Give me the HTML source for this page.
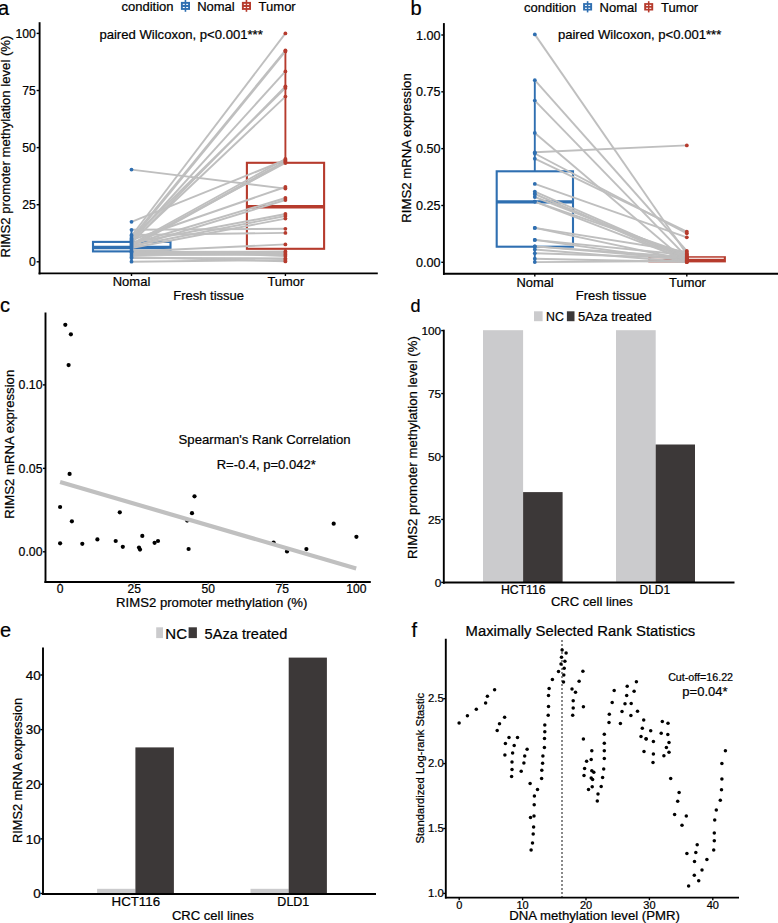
<!DOCTYPE html>
<html><head><meta charset="utf-8"><style>
html,body{margin:0;padding:0;background:#fff;width:778px;height:923px;overflow:hidden}
svg text{font-family:"Liberation Sans", sans-serif;stroke:#000;stroke-width:0.22px;paint-order:stroke}
</style></head><body>
<svg width="778" height="923" viewBox="0 0 778 923" style="display:block;font-family:'Liberation Sans', sans-serif"><text x="-2" y="14.5" font-size="20" text-anchor="start" fill="#000" >a</text>
<text x="147.55" y="10.5" font-size="13" text-anchor="middle" fill="#000" >condition</text>
<line x1="185.45" y1="0" x2="185.45" y2="11.8" stroke="#2F6FB1" stroke-width="1.6" stroke-linecap="butt" />
<rect x="180.9" y="1.9" width="9.1" height="8" fill="#2F6FB1"/>
<rect x="182.8" y="3.83" width="1.95" height="1.1" fill="#fff"/>
<rect x="186.15" y="3.83" width="1.95" height="1.1" fill="#fff"/>
<rect x="182.8" y="6.95" width="1.95" height="1.1" fill="#fff"/>
<rect x="186.15" y="6.95" width="1.95" height="1.1" fill="#fff"/>
<text x="215.95" y="10.5" font-size="13" text-anchor="middle" fill="#000" >Nomal</text>
<line x1="246.45" y1="0" x2="246.45" y2="11.8" stroke="#B63B2D" stroke-width="1.6" stroke-linecap="butt" />
<rect x="241.9" y="1.9" width="9.1" height="8" fill="#B63B2D"/>
<rect x="243.8" y="3.83" width="1.95" height="1.1" fill="#fff"/>
<rect x="247.15" y="3.83" width="1.95" height="1.1" fill="#fff"/>
<rect x="243.8" y="6.95" width="1.95" height="1.1" fill="#fff"/>
<rect x="247.15" y="6.95" width="1.95" height="1.1" fill="#fff"/>
<text x="277.15" y="10.5" font-size="13" text-anchor="middle" fill="#000" >Tumor</text>
<text x="181.1" y="38.5" font-size="13.1" text-anchor="middle" fill="#000" >paired Wilcoxon, p&lt;0.001***</text>
<rect x="93" y="241.9" width="77.5" height="9.5" fill="none" stroke="#2F6FB1" stroke-width="2.1"/>
<line x1="93" y1="247.5" x2="170.5" y2="247.5" stroke="#2F6FB1" stroke-width="3.3" stroke-linecap="butt" />
<line x1="131.5" y1="229.8" x2="131.5" y2="241.9" stroke="#2F6FB1" stroke-width="1.9" stroke-linecap="butt" />
<line x1="131.5" y1="251.4" x2="131.5" y2="261.7" stroke="#2F6FB1" stroke-width="1.9" stroke-linecap="butt" />
<rect x="246.9" y="162.8" width="77.2" height="86" fill="none" stroke="#B63B2D" stroke-width="2.1"/>
<line x1="246.9" y1="206.8" x2="324.1" y2="206.8" stroke="#B63B2D" stroke-width="3.5" stroke-linecap="butt" />
<line x1="285.4" y1="50.3" x2="285.4" y2="162.8" stroke="#B63B2D" stroke-width="1.9" stroke-linecap="butt" />
<line x1="285.4" y1="248.8" x2="285.4" y2="261.5" stroke="#B63B2D" stroke-width="1.9" stroke-linecap="butt" />
<line x1="131.5" y1="236" x2="285.4" y2="33.4" stroke="#BFBFBF" stroke-width="1.9" stroke-linecap="butt" />
<line x1="131.5" y1="238" x2="285.4" y2="50.3" stroke="#BFBFBF" stroke-width="1.9" stroke-linecap="butt" />
<line x1="131.5" y1="240" x2="285.4" y2="51.5" stroke="#BFBFBF" stroke-width="1.9" stroke-linecap="butt" />
<line x1="131.5" y1="241" x2="285.4" y2="71.4" stroke="#BFBFBF" stroke-width="1.9" stroke-linecap="butt" />
<line x1="131.5" y1="243" x2="285.4" y2="86.3" stroke="#BFBFBF" stroke-width="1.9" stroke-linecap="butt" />
<line x1="131.5" y1="239" x2="285.4" y2="88" stroke="#BFBFBF" stroke-width="1.9" stroke-linecap="butt" />
<line x1="131.5" y1="242" x2="285.4" y2="96.6" stroke="#BFBFBF" stroke-width="1.9" stroke-linecap="butt" />
<line x1="131.5" y1="221.8" x2="285.4" y2="160" stroke="#BFBFBF" stroke-width="1.9" stroke-linecap="butt" />
<line x1="131.5" y1="244" x2="285.4" y2="159" stroke="#BFBFBF" stroke-width="1.9" stroke-linecap="butt" />
<line x1="131.5" y1="246" x2="285.4" y2="161" stroke="#BFBFBF" stroke-width="1.9" stroke-linecap="butt" />
<line x1="131.5" y1="247" x2="285.4" y2="162" stroke="#BFBFBF" stroke-width="1.9" stroke-linecap="butt" />
<line x1="131.5" y1="245" x2="285.4" y2="163" stroke="#BFBFBF" stroke-width="1.9" stroke-linecap="butt" />
<line x1="131.5" y1="240" x2="285.4" y2="187" stroke="#BFBFBF" stroke-width="1.9" stroke-linecap="butt" />
<line x1="131.5" y1="169.6" x2="285.4" y2="188.6" stroke="#BFBFBF" stroke-width="1.9" stroke-linecap="butt" />
<line x1="131.5" y1="244" x2="285.4" y2="198" stroke="#BFBFBF" stroke-width="1.9" stroke-linecap="butt" />
<line x1="131.5" y1="247" x2="285.4" y2="200" stroke="#BFBFBF" stroke-width="1.9" stroke-linecap="butt" />
<line x1="131.5" y1="243" x2="285.4" y2="214" stroke="#BFBFBF" stroke-width="1.9" stroke-linecap="butt" />
<line x1="131.5" y1="246" x2="285.4" y2="216" stroke="#BFBFBF" stroke-width="1.9" stroke-linecap="butt" />
<line x1="131.5" y1="248" x2="285.4" y2="218.6" stroke="#BFBFBF" stroke-width="1.9" stroke-linecap="butt" />
<line x1="131.5" y1="229.8" x2="285.4" y2="228.8" stroke="#BFBFBF" stroke-width="1.9" stroke-linecap="butt" />
<line x1="131.5" y1="235" x2="285.4" y2="232.9" stroke="#BFBFBF" stroke-width="1.9" stroke-linecap="butt" />
<line x1="131.5" y1="251.5" x2="285.4" y2="244.4" stroke="#BFBFBF" stroke-width="1.9" stroke-linecap="butt" />
<line x1="131.5" y1="252" x2="285.4" y2="251.5" stroke="#BFBFBF" stroke-width="1.9" stroke-linecap="butt" />
<line x1="131.5" y1="255" x2="285.4" y2="254.6" stroke="#BFBFBF" stroke-width="1.9" stroke-linecap="butt" />
<line x1="131.5" y1="250" x2="285.4" y2="256" stroke="#BFBFBF" stroke-width="1.9" stroke-linecap="butt" />
<line x1="131.5" y1="258" x2="285.4" y2="258.4" stroke="#BFBFBF" stroke-width="1.9" stroke-linecap="butt" />
<line x1="131.5" y1="261.7" x2="285.4" y2="260" stroke="#BFBFBF" stroke-width="1.9" stroke-linecap="butt" />
<line x1="131.5" y1="257" x2="285.4" y2="261.4" stroke="#BFBFBF" stroke-width="1.9" stroke-linecap="butt" />
<line x1="131.5" y1="253" x2="285.4" y2="253" stroke="#BFBFBF" stroke-width="1.9" stroke-linecap="butt" />
<circle cx="131.5" cy="169.6" r="1.9" fill="#2F6FB1"/>
<circle cx="131.5" cy="221.8" r="1.9" fill="#2F6FB1"/>
<circle cx="131.5" cy="229.8" r="1.9" fill="#2F6FB1"/>
<circle cx="131.5" cy="235" r="1.9" fill="#2F6FB1"/>
<circle cx="131.5" cy="236" r="1.9" fill="#2F6FB1"/>
<circle cx="131.5" cy="238" r="1.9" fill="#2F6FB1"/>
<circle cx="131.5" cy="239" r="1.9" fill="#2F6FB1"/>
<circle cx="131.5" cy="240" r="1.9" fill="#2F6FB1"/>
<circle cx="131.5" cy="241" r="1.9" fill="#2F6FB1"/>
<circle cx="131.5" cy="242" r="1.9" fill="#2F6FB1"/>
<circle cx="131.5" cy="243" r="1.9" fill="#2F6FB1"/>
<circle cx="131.5" cy="244" r="1.9" fill="#2F6FB1"/>
<circle cx="131.5" cy="245" r="1.9" fill="#2F6FB1"/>
<circle cx="131.5" cy="246" r="1.9" fill="#2F6FB1"/>
<circle cx="131.5" cy="247" r="1.9" fill="#2F6FB1"/>
<circle cx="131.5" cy="248" r="1.9" fill="#2F6FB1"/>
<circle cx="131.5" cy="250" r="1.9" fill="#2F6FB1"/>
<circle cx="131.5" cy="251.5" r="1.9" fill="#2F6FB1"/>
<circle cx="131.5" cy="252" r="1.9" fill="#2F6FB1"/>
<circle cx="131.5" cy="253" r="1.9" fill="#2F6FB1"/>
<circle cx="131.5" cy="255" r="1.9" fill="#2F6FB1"/>
<circle cx="131.5" cy="257" r="1.9" fill="#2F6FB1"/>
<circle cx="131.5" cy="258" r="1.9" fill="#2F6FB1"/>
<circle cx="131.5" cy="261.7" r="1.9" fill="#2F6FB1"/>
<circle cx="285.4" cy="33.4" r="1.9" fill="#B63B2D"/>
<circle cx="285.4" cy="50.3" r="1.9" fill="#B63B2D"/>
<circle cx="285.4" cy="51.5" r="1.9" fill="#B63B2D"/>
<circle cx="285.4" cy="71.4" r="1.9" fill="#B63B2D"/>
<circle cx="285.4" cy="86.3" r="1.9" fill="#B63B2D"/>
<circle cx="285.4" cy="88" r="1.9" fill="#B63B2D"/>
<circle cx="285.4" cy="96.6" r="1.9" fill="#B63B2D"/>
<circle cx="285.4" cy="159" r="1.9" fill="#B63B2D"/>
<circle cx="285.4" cy="160" r="1.9" fill="#B63B2D"/>
<circle cx="285.4" cy="161" r="1.9" fill="#B63B2D"/>
<circle cx="285.4" cy="162" r="1.9" fill="#B63B2D"/>
<circle cx="285.4" cy="163" r="1.9" fill="#B63B2D"/>
<circle cx="285.4" cy="187" r="1.9" fill="#B63B2D"/>
<circle cx="285.4" cy="188.6" r="1.9" fill="#B63B2D"/>
<circle cx="285.4" cy="198" r="1.9" fill="#B63B2D"/>
<circle cx="285.4" cy="200" r="1.9" fill="#B63B2D"/>
<circle cx="285.4" cy="214" r="1.9" fill="#B63B2D"/>
<circle cx="285.4" cy="216" r="1.9" fill="#B63B2D"/>
<circle cx="285.4" cy="218.6" r="1.9" fill="#B63B2D"/>
<circle cx="285.4" cy="228.8" r="1.9" fill="#B63B2D"/>
<circle cx="285.4" cy="232.9" r="1.9" fill="#B63B2D"/>
<circle cx="285.4" cy="244.4" r="1.9" fill="#B63B2D"/>
<circle cx="285.4" cy="251.5" r="1.9" fill="#B63B2D"/>
<circle cx="285.4" cy="253" r="1.9" fill="#B63B2D"/>
<circle cx="285.4" cy="254.6" r="1.9" fill="#B63B2D"/>
<circle cx="285.4" cy="256" r="1.9" fill="#B63B2D"/>
<circle cx="285.4" cy="258.4" r="1.9" fill="#B63B2D"/>
<circle cx="285.4" cy="260" r="1.9" fill="#B63B2D"/>
<circle cx="285.4" cy="261.4" r="1.9" fill="#B63B2D"/>
<line x1="39.6" y1="22.2" x2="39.6" y2="274.4" stroke="#000" stroke-width="1.9" stroke-linecap="butt" />
<line x1="38.6" y1="273.4" x2="377.8" y2="273.4" stroke="#000" stroke-width="1.9" stroke-linecap="butt" />
<line x1="36.6" y1="33.4" x2="39.2" y2="33.4" stroke="#000" stroke-width="1.4" stroke-linecap="butt" />
<text x="35.9" y="37.7" font-size="12.2" text-anchor="end" fill="#000" >100</text>
<line x1="36.6" y1="90.5" x2="39.2" y2="90.5" stroke="#000" stroke-width="1.4" stroke-linecap="butt" />
<text x="35.9" y="94.8" font-size="12.2" text-anchor="end" fill="#000" >75</text>
<line x1="36.6" y1="147.6" x2="39.2" y2="147.6" stroke="#000" stroke-width="1.4" stroke-linecap="butt" />
<text x="35.9" y="151.9" font-size="12.2" text-anchor="end" fill="#000" >50</text>
<line x1="36.6" y1="204.7" x2="39.2" y2="204.7" stroke="#000" stroke-width="1.4" stroke-linecap="butt" />
<text x="35.9" y="209" font-size="12.2" text-anchor="end" fill="#000" >25</text>
<line x1="36.6" y1="261.8" x2="39.2" y2="261.8" stroke="#000" stroke-width="1.4" stroke-linecap="butt" />
<text x="35.9" y="266.1" font-size="12.2" text-anchor="end" fill="#000" >0</text>
<line x1="131.5" y1="273.4" x2="131.5" y2="276" stroke="#000" stroke-width="1.4" stroke-linecap="butt" />
<line x1="285.4" y1="273.4" x2="285.4" y2="276" stroke="#000" stroke-width="1.4" stroke-linecap="butt" />
<text x="131.5" y="285.6" font-size="13" text-anchor="middle" fill="#000" >Nomal</text>
<text x="285.8" y="285.6" font-size="12.9" text-anchor="middle" fill="#000" >Tumor</text>
<text x="208.6" y="299.7" font-size="13" text-anchor="middle" fill="#000" >Fresh tissue</text>
<text transform="translate(10.3,146.6) rotate(-90)" x="0" y="0" font-size="13.15" text-anchor="middle" fill="#000" >RIMS2 promoter methylation level (%)</text>
<text x="410.4" y="14.6" font-size="20" text-anchor="start" fill="#000" >b</text>
<text x="550" y="11.6" font-size="13" text-anchor="middle" fill="#000" >condition</text>
<line x1="587.6" y1="1.2" x2="587.6" y2="12.4" stroke="#2F6FB1" stroke-width="1.6" stroke-linecap="butt" />
<rect x="583.1" y="3.1" width="9" height="7.4" fill="#2F6FB1"/>
<rect x="585" y="4.84" width="1.9" height="1.1" fill="#fff"/>
<rect x="588.3" y="4.84" width="1.9" height="1.1" fill="#fff"/>
<rect x="585" y="7.73" width="1.9" height="1.1" fill="#fff"/>
<rect x="588.3" y="7.73" width="1.9" height="1.1" fill="#fff"/>
<text x="618.35" y="11.6" font-size="13" text-anchor="middle" fill="#000" >Nomal</text>
<line x1="648.7" y1="1.2" x2="648.7" y2="12.4" stroke="#B63B2D" stroke-width="1.6" stroke-linecap="butt" />
<rect x="644.2" y="3.1" width="9" height="7.4" fill="#B63B2D"/>
<rect x="646.1" y="4.84" width="1.9" height="1.1" fill="#fff"/>
<rect x="649.4" y="4.84" width="1.9" height="1.1" fill="#fff"/>
<rect x="646.1" y="7.73" width="1.9" height="1.1" fill="#fff"/>
<rect x="649.4" y="7.73" width="1.9" height="1.1" fill="#fff"/>
<text x="679.65" y="11.6" font-size="13" text-anchor="middle" fill="#000" >Tumor</text>
<text x="639.6" y="39.4" font-size="13.1" text-anchor="middle" fill="#000" >paired Wilcoxon, p&lt;0.001***</text>
<rect x="496.7" y="171.3" width="76.3" height="75.4" fill="none" stroke="#2F6FB1" stroke-width="2.1"/>
<line x1="496.7" y1="201.8" x2="573" y2="201.8" stroke="#2F6FB1" stroke-width="3.3" stroke-linecap="butt" />
<line x1="534.8" y1="80.2" x2="534.8" y2="171.3" stroke="#2F6FB1" stroke-width="1.9" stroke-linecap="butt" />
<line x1="534.8" y1="246.7" x2="534.8" y2="262.1" stroke="#2F6FB1" stroke-width="1.9" stroke-linecap="butt" />
<rect x="648.3" y="256.2" width="77.6" height="6.2" fill="#B63B2D"/>
<rect x="650.4" y="257.7" width="73.4" height="1.1" fill="#fff"/>
<line x1="686.8" y1="251" x2="686.8" y2="256.5" stroke="#B63B2D" stroke-width="1.9" stroke-linecap="butt" />
<line x1="534.8" y1="34.4" x2="686.8" y2="254" stroke="#BFBFBF" stroke-width="1.9" stroke-linecap="butt" />
<line x1="534.8" y1="80.2" x2="686.8" y2="251" stroke="#BFBFBF" stroke-width="1.9" stroke-linecap="butt" />
<line x1="534.8" y1="100.6" x2="686.8" y2="257" stroke="#BFBFBF" stroke-width="1.9" stroke-linecap="butt" />
<line x1="534.8" y1="133" x2="686.8" y2="262" stroke="#BFBFBF" stroke-width="1.9" stroke-linecap="butt" />
<line x1="534.8" y1="152.3" x2="686.8" y2="145.4" stroke="#BFBFBF" stroke-width="1.9" stroke-linecap="butt" />
<line x1="534.8" y1="153.5" x2="686.8" y2="233.3" stroke="#BFBFBF" stroke-width="1.9" stroke-linecap="butt" />
<line x1="534.8" y1="158.7" x2="686.8" y2="231.6" stroke="#BFBFBF" stroke-width="1.9" stroke-linecap="butt" />
<line x1="534.8" y1="183.9" x2="686.8" y2="237.3" stroke="#BFBFBF" stroke-width="1.9" stroke-linecap="butt" />
<line x1="534.8" y1="191.6" x2="686.8" y2="258" stroke="#BFBFBF" stroke-width="1.9" stroke-linecap="butt" />
<line x1="534.8" y1="194" x2="686.8" y2="259" stroke="#BFBFBF" stroke-width="1.9" stroke-linecap="butt" />
<line x1="534.8" y1="197" x2="686.8" y2="256" stroke="#BFBFBF" stroke-width="1.9" stroke-linecap="butt" />
<line x1="534.8" y1="201.6" x2="686.8" y2="254" stroke="#BFBFBF" stroke-width="1.9" stroke-linecap="butt" />
<line x1="534.8" y1="227.9" x2="686.8" y2="260" stroke="#BFBFBF" stroke-width="1.9" stroke-linecap="butt" />
<line x1="534.8" y1="239.9" x2="686.8" y2="261" stroke="#BFBFBF" stroke-width="1.9" stroke-linecap="butt" />
<line x1="534.8" y1="246.4" x2="686.8" y2="259" stroke="#BFBFBF" stroke-width="1.9" stroke-linecap="butt" />
<line x1="534.8" y1="249.5" x2="686.8" y2="262" stroke="#BFBFBF" stroke-width="1.9" stroke-linecap="butt" />
<line x1="534.8" y1="253.3" x2="686.8" y2="258" stroke="#BFBFBF" stroke-width="1.9" stroke-linecap="butt" />
<line x1="534.8" y1="258.7" x2="686.8" y2="262" stroke="#BFBFBF" stroke-width="1.9" stroke-linecap="butt" />
<line x1="534.8" y1="262.1" x2="686.8" y2="261" stroke="#BFBFBF" stroke-width="1.9" stroke-linecap="butt" />
<line x1="534.8" y1="239.9" x2="686.8" y2="255" stroke="#BFBFBF" stroke-width="1.9" stroke-linecap="butt" />
<line x1="534.8" y1="227.9" x2="686.8" y2="252" stroke="#BFBFBF" stroke-width="1.9" stroke-linecap="butt" />
<line x1="534.8" y1="246.4" x2="686.8" y2="257" stroke="#BFBFBF" stroke-width="1.9" stroke-linecap="butt" />
<line x1="534.8" y1="201.6" x2="686.8" y2="260" stroke="#BFBFBF" stroke-width="1.9" stroke-linecap="butt" />
<line x1="534.8" y1="194" x2="686.8" y2="261" stroke="#BFBFBF" stroke-width="1.9" stroke-linecap="butt" />
<circle cx="534.8" cy="34.4" r="1.9" fill="#2F6FB1"/>
<circle cx="686.8" cy="254" r="1.9" fill="#B63B2D"/>
<circle cx="534.8" cy="80.2" r="1.9" fill="#2F6FB1"/>
<circle cx="686.8" cy="251" r="1.9" fill="#B63B2D"/>
<circle cx="534.8" cy="100.6" r="1.9" fill="#2F6FB1"/>
<circle cx="686.8" cy="257" r="1.9" fill="#B63B2D"/>
<circle cx="534.8" cy="133" r="1.9" fill="#2F6FB1"/>
<circle cx="686.8" cy="262" r="1.9" fill="#B63B2D"/>
<circle cx="534.8" cy="152.3" r="1.9" fill="#2F6FB1"/>
<circle cx="686.8" cy="145.4" r="1.9" fill="#B63B2D"/>
<circle cx="534.8" cy="153.5" r="1.9" fill="#2F6FB1"/>
<circle cx="686.8" cy="233.3" r="1.9" fill="#B63B2D"/>
<circle cx="534.8" cy="158.7" r="1.9" fill="#2F6FB1"/>
<circle cx="686.8" cy="231.6" r="1.9" fill="#B63B2D"/>
<circle cx="534.8" cy="183.9" r="1.9" fill="#2F6FB1"/>
<circle cx="686.8" cy="237.3" r="1.9" fill="#B63B2D"/>
<circle cx="534.8" cy="191.6" r="1.9" fill="#2F6FB1"/>
<circle cx="686.8" cy="258" r="1.9" fill="#B63B2D"/>
<circle cx="534.8" cy="194" r="1.9" fill="#2F6FB1"/>
<circle cx="686.8" cy="259" r="1.9" fill="#B63B2D"/>
<circle cx="534.8" cy="197" r="1.9" fill="#2F6FB1"/>
<circle cx="686.8" cy="256" r="1.9" fill="#B63B2D"/>
<circle cx="534.8" cy="201.6" r="1.9" fill="#2F6FB1"/>
<circle cx="686.8" cy="254" r="1.9" fill="#B63B2D"/>
<circle cx="534.8" cy="227.9" r="1.9" fill="#2F6FB1"/>
<circle cx="686.8" cy="260" r="1.9" fill="#B63B2D"/>
<circle cx="534.8" cy="239.9" r="1.9" fill="#2F6FB1"/>
<circle cx="686.8" cy="261" r="1.9" fill="#B63B2D"/>
<circle cx="534.8" cy="246.4" r="1.9" fill="#2F6FB1"/>
<circle cx="686.8" cy="259" r="1.9" fill="#B63B2D"/>
<circle cx="534.8" cy="249.5" r="1.9" fill="#2F6FB1"/>
<circle cx="686.8" cy="262" r="1.9" fill="#B63B2D"/>
<circle cx="534.8" cy="253.3" r="1.9" fill="#2F6FB1"/>
<circle cx="686.8" cy="258" r="1.9" fill="#B63B2D"/>
<circle cx="534.8" cy="258.7" r="1.9" fill="#2F6FB1"/>
<circle cx="686.8" cy="262" r="1.9" fill="#B63B2D"/>
<circle cx="534.8" cy="262.1" r="1.9" fill="#2F6FB1"/>
<circle cx="686.8" cy="261" r="1.9" fill="#B63B2D"/>
<circle cx="534.8" cy="239.9" r="1.9" fill="#2F6FB1"/>
<circle cx="686.8" cy="255" r="1.9" fill="#B63B2D"/>
<circle cx="534.8" cy="227.9" r="1.9" fill="#2F6FB1"/>
<circle cx="686.8" cy="252" r="1.9" fill="#B63B2D"/>
<circle cx="534.8" cy="246.4" r="1.9" fill="#2F6FB1"/>
<circle cx="686.8" cy="257" r="1.9" fill="#B63B2D"/>
<circle cx="534.8" cy="201.6" r="1.9" fill="#2F6FB1"/>
<circle cx="686.8" cy="260" r="1.9" fill="#B63B2D"/>
<circle cx="534.8" cy="194" r="1.9" fill="#2F6FB1"/>
<circle cx="686.8" cy="261" r="1.9" fill="#B63B2D"/>
<line x1="443.9" y1="23.1" x2="443.9" y2="274.8" stroke="#000" stroke-width="1.9" stroke-linecap="butt" />
<line x1="443" y1="273.8" x2="778" y2="273.8" stroke="#000" stroke-width="1.9" stroke-linecap="butt" />
<line x1="441.3" y1="35" x2="443.9" y2="35" stroke="#000" stroke-width="1.4" stroke-linecap="butt" />
<text x="440.4" y="39.6" font-size="12.6" text-anchor="end" fill="#000" >1.00</text>
<line x1="441.3" y1="91.82" x2="443.9" y2="91.82" stroke="#000" stroke-width="1.4" stroke-linecap="butt" />
<text x="440.4" y="96.42" font-size="12.6" text-anchor="end" fill="#000" >0.75</text>
<line x1="441.3" y1="148.65" x2="443.9" y2="148.65" stroke="#000" stroke-width="1.4" stroke-linecap="butt" />
<text x="440.4" y="153.25" font-size="12.6" text-anchor="end" fill="#000" >0.50</text>
<line x1="441.3" y1="205.48" x2="443.9" y2="205.48" stroke="#000" stroke-width="1.4" stroke-linecap="butt" />
<text x="440.4" y="210.08" font-size="12.6" text-anchor="end" fill="#000" >0.25</text>
<line x1="441.3" y1="262.3" x2="443.9" y2="262.3" stroke="#000" stroke-width="1.4" stroke-linecap="butt" />
<text x="440.4" y="266.9" font-size="12.6" text-anchor="end" fill="#000" >0.00</text>
<line x1="534.8" y1="273.8" x2="534.8" y2="276.4" stroke="#000" stroke-width="1.4" stroke-linecap="butt" />
<line x1="686.8" y1="273.8" x2="686.8" y2="276.4" stroke="#000" stroke-width="1.4" stroke-linecap="butt" />
<text x="535.05" y="287" font-size="12.9" text-anchor="middle" fill="#000" >Nomal</text>
<text x="687.5" y="287" font-size="12.9" text-anchor="middle" fill="#000" >Tumor</text>
<text x="611.15" y="300.3" font-size="13" text-anchor="middle" fill="#000" >Fresh tissue</text>
<text transform="translate(411,148) rotate(-90)" x="0" y="0" font-size="13.2" text-anchor="middle" fill="#000" >RIMS2 mRNA expression</text>
<text x="0.1" y="311.8" font-size="20" text-anchor="start" fill="#000" >c</text>
<circle cx="65.3" cy="324.8" r="2.1" fill="#000"/>
<circle cx="70.9" cy="334.3" r="2.1" fill="#000"/>
<circle cx="68.6" cy="365.1" r="2.1" fill="#000"/>
<circle cx="69.6" cy="473.9" r="2.1" fill="#000"/>
<circle cx="60.1" cy="507" r="2.1" fill="#000"/>
<circle cx="71.9" cy="521.3" r="2.1" fill="#000"/>
<circle cx="119.8" cy="512.3" r="2.1" fill="#000"/>
<circle cx="60.1" cy="543.3" r="2.1" fill="#000"/>
<circle cx="82.3" cy="543.8" r="2.1" fill="#000"/>
<circle cx="97.4" cy="539.4" r="2.1" fill="#000"/>
<circle cx="115.7" cy="541" r="2.1" fill="#000"/>
<circle cx="122.8" cy="546.8" r="2.1" fill="#000"/>
<circle cx="139" cy="547.5" r="2.1" fill="#000"/>
<circle cx="140" cy="549.6" r="2.1" fill="#000"/>
<circle cx="142.3" cy="535.9" r="2.1" fill="#000"/>
<circle cx="154.6" cy="542.8" r="2.1" fill="#000"/>
<circle cx="158" cy="541" r="2.1" fill="#000"/>
<circle cx="188.6" cy="549" r="2.1" fill="#000"/>
<circle cx="187.2" cy="520.6" r="2.1" fill="#000"/>
<circle cx="192" cy="513.2" r="2.1" fill="#000"/>
<circle cx="194.5" cy="496.3" r="2.1" fill="#000"/>
<circle cx="273.6" cy="542.6" r="2.1" fill="#000"/>
<circle cx="287" cy="551.4" r="2.1" fill="#000"/>
<circle cx="306.4" cy="549.1" r="2.1" fill="#000"/>
<circle cx="333.7" cy="523.7" r="2.1" fill="#000"/>
<circle cx="356.4" cy="536.8" r="2.1" fill="#000"/>
<line x1="60.1" y1="482" x2="356.2" y2="568.5" stroke="#C0C0C0" stroke-width="4.2" stroke-linecap="butt" />
<line x1="45.5" y1="312.5" x2="45.5" y2="583" stroke="#000" stroke-width="1.9" stroke-linecap="butt" />
<line x1="44.5" y1="582" x2="370.8" y2="582" stroke="#000" stroke-width="2" stroke-linecap="butt" />
<line x1="42.9" y1="384.9" x2="45.5" y2="384.9" stroke="#000" stroke-width="1.4" stroke-linecap="butt" />
<text x="42.5" y="389.3" font-size="12.3" text-anchor="end" fill="#000" >0.10</text>
<line x1="42.9" y1="468.35" x2="45.5" y2="468.35" stroke="#000" stroke-width="1.4" stroke-linecap="butt" />
<text x="42.5" y="472.75" font-size="12.3" text-anchor="end" fill="#000" >0.05</text>
<line x1="42.9" y1="551.8" x2="45.5" y2="551.8" stroke="#000" stroke-width="1.4" stroke-linecap="butt" />
<text x="42.5" y="556.2" font-size="12.3" text-anchor="end" fill="#000" >0.00</text>
<line x1="60.1" y1="582" x2="60.1" y2="583.5" stroke="#000" stroke-width="1" stroke-linecap="butt" />
<text x="60.1" y="593.4" font-size="12.1" text-anchor="middle" fill="#000" >0</text>
<line x1="134.15" y1="582" x2="134.15" y2="583.5" stroke="#000" stroke-width="1" stroke-linecap="butt" />
<text x="134.15" y="593.4" font-size="12.1" text-anchor="middle" fill="#000" >25</text>
<line x1="208.2" y1="582" x2="208.2" y2="583.5" stroke="#000" stroke-width="1" stroke-linecap="butt" />
<text x="208.2" y="593.4" font-size="12.1" text-anchor="middle" fill="#000" >50</text>
<line x1="282.25" y1="582" x2="282.25" y2="583.5" stroke="#000" stroke-width="1" stroke-linecap="butt" />
<text x="282.25" y="593.4" font-size="12.1" text-anchor="middle" fill="#000" >75</text>
<line x1="356.3" y1="582" x2="356.3" y2="583.5" stroke="#000" stroke-width="1" stroke-linecap="butt" />
<text x="356.3" y="593.4" font-size="12.1" text-anchor="middle" fill="#000" >100</text>
<text x="211.75" y="607" font-size="13.15" text-anchor="middle" fill="#000" >RIMS2 promoter methylation (%)</text>
<text transform="translate(13.6,444.3) rotate(-90)" x="0" y="0" font-size="13.15" text-anchor="middle" fill="#000" >RIMS2 mRNA expression</text>
<text x="264.55" y="443.8" font-size="13.15" text-anchor="middle" fill="#000" >Spearman's Rank Correlation</text>
<text x="266.2" y="469" font-size="13" text-anchor="middle" fill="#000" >R=-0.4, p=0.042*</text>
<text x="410.6" y="312" font-size="18" text-anchor="start" fill="#000" >d</text>
<rect x="534" y="311.3" width="8.6" height="9.9" fill="#CBCBCD"/>
<text x="554.95" y="320.6" font-size="12.3" text-anchor="middle" fill="#000" >NC</text>
<rect x="566.9" y="311.3" width="7.6" height="9.9" fill="#3C3838"/>
<text x="614.8" y="320.6" font-size="13" text-anchor="middle" fill="#000" >5Aza treated</text>
<rect x="483" y="330.2" width="40.1" height="252.2" fill="#CBCBCD"/>
<rect x="523.1" y="492.1" width="39.5" height="90.3" fill="#3C3838"/>
<rect x="616" y="330.2" width="39.7" height="252.2" fill="#CBCBCD"/>
<rect x="655.7" y="444.5" width="39.3" height="137.9" fill="#3C3838"/>
<line x1="443.8" y1="329.7" x2="443.8" y2="583.8" stroke="#000" stroke-width="1.9" stroke-linecap="butt" />
<line x1="443" y1="582.4" x2="734.5" y2="582.4" stroke="#000" stroke-width="2" stroke-linecap="butt" />
<line x1="441.2" y1="330.6" x2="443.8" y2="330.6" stroke="#000" stroke-width="1.4" stroke-linecap="butt" />
<text x="441.2" y="334.8" font-size="11.8" text-anchor="end" fill="#000" >100</text>
<line x1="441.2" y1="393.55" x2="443.8" y2="393.55" stroke="#000" stroke-width="1.4" stroke-linecap="butt" />
<text x="441.2" y="397.75" font-size="11.8" text-anchor="end" fill="#000" >75</text>
<line x1="441.2" y1="456.5" x2="443.8" y2="456.5" stroke="#000" stroke-width="1.4" stroke-linecap="butt" />
<text x="441.2" y="460.7" font-size="11.8" text-anchor="end" fill="#000" >50</text>
<line x1="441.2" y1="519.45" x2="443.8" y2="519.45" stroke="#000" stroke-width="1.4" stroke-linecap="butt" />
<text x="441.2" y="523.65" font-size="11.8" text-anchor="end" fill="#000" >25</text>
<line x1="441.2" y1="582.4" x2="443.8" y2="582.4" stroke="#000" stroke-width="1.4" stroke-linecap="butt" />
<text x="441.2" y="586.6" font-size="11.8" text-anchor="end" fill="#000" >0</text>
<text x="523.3" y="594" font-size="12.25" text-anchor="middle" fill="#000" >HCT116</text>
<text x="654.85" y="594" font-size="12" text-anchor="middle" fill="#000" >DLD1</text>
<text x="591.9" y="605.7" font-size="13.05" text-anchor="middle" fill="#000" >CRC cell lines</text>
<text transform="translate(416.8,447.6) rotate(-90)" x="0" y="0" font-size="13.2" text-anchor="middle" fill="#000" >RIMS2 promoter methylation level (%)</text>
<text x="-0.1" y="637.2" font-size="20" text-anchor="start" fill="#000" >e</text>
<rect x="156.2" y="627.3" width="6.8" height="10.8" fill="#CBCBCD"/>
<text x="176.2" y="638.8" font-size="15" text-anchor="middle" fill="#000" >NC</text>
<rect x="188.6" y="627.3" width="8.3" height="10.8" fill="#3C3838"/>
<text x="245.95" y="638.8" font-size="14.6" text-anchor="middle" fill="#000" >5Aza treated</text>
<rect x="97.1" y="888.8" width="38.3" height="5.2" fill="#CBCBCD"/>
<rect x="135.4" y="747.4" width="38.5" height="146.6" fill="#3C3838"/>
<rect x="250.5" y="888.8" width="38.2" height="5.2" fill="#CBCBCD"/>
<rect x="288.7" y="657.6" width="38.2" height="236.4" fill="#3C3838"/>
<line x1="43" y1="647.4" x2="43" y2="895" stroke="#000" stroke-width="1.9" stroke-linecap="butt" />
<line x1="42" y1="894" x2="376" y2="894" stroke="#000" stroke-width="1.9" stroke-linecap="butt" />
<line x1="40.4" y1="675" x2="43" y2="675" stroke="#000" stroke-width="1.4" stroke-linecap="butt" />
<text x="40.6" y="679.8" font-size="13.4" text-anchor="end" fill="#000" >40</text>
<line x1="40.4" y1="729.62" x2="43" y2="729.62" stroke="#000" stroke-width="1.4" stroke-linecap="butt" />
<text x="40.6" y="734.42" font-size="13.4" text-anchor="end" fill="#000" >30</text>
<line x1="40.4" y1="784.25" x2="43" y2="784.25" stroke="#000" stroke-width="1.4" stroke-linecap="butt" />
<text x="40.6" y="789.05" font-size="13.4" text-anchor="end" fill="#000" >20</text>
<line x1="40.4" y1="838.88" x2="43" y2="838.88" stroke="#000" stroke-width="1.4" stroke-linecap="butt" />
<text x="40.6" y="843.67" font-size="13.4" text-anchor="end" fill="#000" >10</text>
<line x1="40.4" y1="893.5" x2="43" y2="893.5" stroke="#000" stroke-width="1.4" stroke-linecap="butt" />
<text x="40.6" y="898.3" font-size="13.4" text-anchor="end" fill="#000" >0</text>
<text x="135.8" y="906" font-size="13.3" text-anchor="middle" fill="#000" >HCT116</text>
<text x="293.35" y="906" font-size="12.5" text-anchor="middle" fill="#000" >DLD1</text>
<text x="212.9" y="919.5" font-size="13.05" text-anchor="middle" fill="#000" >CRC cell lines</text>
<text transform="translate(22.1,770.55) rotate(-90)" x="0" y="0" font-size="12.8" text-anchor="middle" fill="#000" >RIMS2 mRNA expression</text>
<text x="411.5" y="637" font-size="20" text-anchor="start" fill="#000" >f</text>
<text x="580.45" y="635.9" font-size="14.82" text-anchor="middle" fill="#000" >Maximally Selected Rank Statistics</text>
<line x1="562" y1="640" x2="562" y2="897" stroke="#848484" stroke-width="1.9" stroke-linecap="butt" stroke-dasharray="1.9,2.1"/>
<circle cx="459.1" cy="723" r="1.75" fill="#000"/>
<circle cx="467.4" cy="715.8" r="1.75" fill="#000"/>
<circle cx="476.3" cy="709.3" r="1.75" fill="#000"/>
<circle cx="485.6" cy="702.9" r="1.75" fill="#000"/>
<circle cx="487.4" cy="696.2" r="1.75" fill="#000"/>
<circle cx="494.6" cy="689.8" r="1.75" fill="#000"/>
<circle cx="497.2" cy="730.4" r="1.75" fill="#000"/>
<circle cx="499.5" cy="723.7" r="1.75" fill="#000"/>
<circle cx="504.6" cy="717.3" r="1.75" fill="#000"/>
<circle cx="505.4" cy="743.5" r="1.75" fill="#000"/>
<circle cx="509" cy="737.4" r="1.75" fill="#000"/>
<circle cx="514.2" cy="745.6" r="1.75" fill="#000"/>
<circle cx="517.5" cy="737.4" r="1.75" fill="#000"/>
<circle cx="504.9" cy="755.1" r="1.75" fill="#000"/>
<circle cx="512.6" cy="753" r="1.75" fill="#000"/>
<circle cx="524.7" cy="756.1" r="1.75" fill="#000"/>
<circle cx="527.1" cy="749.3" r="1.75" fill="#000"/>
<circle cx="542.9" cy="755.9" r="1.75" fill="#000"/>
<circle cx="544.4" cy="747.6" r="1.75" fill="#000"/>
<circle cx="544.5" cy="738.6" r="1.75" fill="#000"/>
<circle cx="544.8" cy="731.7" r="1.75" fill="#000"/>
<circle cx="544.8" cy="725" r="1.75" fill="#000"/>
<circle cx="548.2" cy="715.3" r="1.75" fill="#000"/>
<circle cx="548.5" cy="706.4" r="1.75" fill="#000"/>
<circle cx="548.5" cy="695.4" r="1.75" fill="#000"/>
<circle cx="549.1" cy="688.5" r="1.75" fill="#000"/>
<circle cx="552.4" cy="679.5" r="1.75" fill="#000"/>
<circle cx="558.5" cy="671.4" r="1.75" fill="#000"/>
<circle cx="561" cy="664.1" r="1.75" fill="#000"/>
<circle cx="561.5" cy="657.2" r="1.75" fill="#000"/>
<circle cx="562.1" cy="650.1" r="1.75" fill="#000"/>
<circle cx="566.1" cy="652.9" r="1.75" fill="#000"/>
<circle cx="564.9" cy="661.3" r="1.75" fill="#000"/>
<circle cx="564.2" cy="668.3" r="1.75" fill="#000"/>
<circle cx="563.8" cy="675.1" r="1.75" fill="#000"/>
<circle cx="563.5" cy="682" r="1.75" fill="#000"/>
<circle cx="572" cy="689.1" r="1.75" fill="#000"/>
<circle cx="575.5" cy="692.2" r="1.75" fill="#000"/>
<circle cx="573.2" cy="700.7" r="1.75" fill="#000"/>
<circle cx="573.2" cy="707.9" r="1.75" fill="#000"/>
<circle cx="572.7" cy="715.3" r="1.75" fill="#000"/>
<circle cx="579.1" cy="681.2" r="1.75" fill="#000"/>
<circle cx="582.9" cy="671.2" r="1.75" fill="#000"/>
<circle cx="583.4" cy="706.7" r="1.75" fill="#000"/>
<circle cx="583.4" cy="739.1" r="1.75" fill="#000"/>
<circle cx="591.8" cy="750.7" r="1.75" fill="#000"/>
<circle cx="591.2" cy="759.5" r="1.75" fill="#000"/>
<circle cx="512" cy="762" r="1.75" fill="#000"/>
<circle cx="523.9" cy="763" r="1.75" fill="#000"/>
<circle cx="542.6" cy="763.2" r="1.75" fill="#000"/>
<circle cx="512" cy="769.4" r="1.75" fill="#000"/>
<circle cx="521.2" cy="771.3" r="1.75" fill="#000"/>
<circle cx="541.8" cy="770.2" r="1.75" fill="#000"/>
<circle cx="511.6" cy="776.4" r="1.75" fill="#000"/>
<circle cx="541.6" cy="778.5" r="1.75" fill="#000"/>
<circle cx="530.1" cy="783.4" r="1.75" fill="#000"/>
<circle cx="537.5" cy="789.4" r="1.75" fill="#000"/>
<circle cx="534.4" cy="796.1" r="1.75" fill="#000"/>
<circle cx="534.2" cy="804.8" r="1.75" fill="#000"/>
<circle cx="530.5" cy="817.5" r="1.75" fill="#000"/>
<circle cx="534" cy="815.9" r="1.75" fill="#000"/>
<circle cx="533.6" cy="827" r="1.75" fill="#000"/>
<circle cx="533.2" cy="834" r="1.75" fill="#000"/>
<circle cx="532.5" cy="843" r="1.75" fill="#000"/>
<circle cx="531.1" cy="850" r="1.75" fill="#000"/>
<circle cx="586.6" cy="761.2" r="1.75" fill="#000"/>
<circle cx="584.6" cy="768.4" r="1.75" fill="#000"/>
<circle cx="591.8" cy="770.8" r="1.75" fill="#000"/>
<circle cx="593.8" cy="772.3" r="1.75" fill="#000"/>
<circle cx="584" cy="775.6" r="1.75" fill="#000"/>
<circle cx="591.2" cy="778" r="1.75" fill="#000"/>
<circle cx="592.6" cy="779.5" r="1.75" fill="#000"/>
<circle cx="588.5" cy="789.4" r="1.75" fill="#000"/>
<circle cx="592.2" cy="786.7" r="1.75" fill="#000"/>
<circle cx="598" cy="793.9" r="1.75" fill="#000"/>
<circle cx="597.3" cy="801.1" r="1.75" fill="#000"/>
<circle cx="601.2" cy="786.6" r="1.75" fill="#000"/>
<circle cx="602.6" cy="777.6" r="1.75" fill="#000"/>
<circle cx="603.7" cy="769" r="1.75" fill="#000"/>
<circle cx="604.3" cy="758.5" r="1.75" fill="#000"/>
<circle cx="604.3" cy="750.8" r="1.75" fill="#000"/>
<circle cx="604.3" cy="743.2" r="1.75" fill="#000"/>
<circle cx="604.3" cy="734.2" r="1.75" fill="#000"/>
<circle cx="609.3" cy="714.2" r="1.75" fill="#000"/>
<circle cx="609" cy="722.6" r="1.75" fill="#000"/>
<circle cx="612.2" cy="702.5" r="1.75" fill="#000"/>
<circle cx="614.2" cy="690.6" r="1.75" fill="#000"/>
<circle cx="620.4" cy="723.4" r="1.75" fill="#000"/>
<circle cx="622" cy="711.5" r="1.75" fill="#000"/>
<circle cx="625" cy="703.8" r="1.75" fill="#000"/>
<circle cx="627.2" cy="686.3" r="1.75" fill="#000"/>
<circle cx="626.7" cy="695.6" r="1.75" fill="#000"/>
<circle cx="630.9" cy="715.6" r="1.75" fill="#000"/>
<circle cx="631.2" cy="703.5" r="1.75" fill="#000"/>
<circle cx="634.1" cy="691.3" r="1.75" fill="#000"/>
<circle cx="636.4" cy="681.7" r="1.75" fill="#000"/>
<circle cx="637.5" cy="711.3" r="1.75" fill="#000"/>
<circle cx="643.7" cy="720" r="1.75" fill="#000"/>
<circle cx="642.3" cy="728.3" r="1.75" fill="#000"/>
<circle cx="641" cy="736.5" r="1.75" fill="#000"/>
<circle cx="646" cy="738.8" r="1.75" fill="#000"/>
<circle cx="646.2" cy="739.1" r="1.75" fill="#000"/>
<circle cx="644" cy="751.5" r="1.75" fill="#000"/>
<circle cx="650.7" cy="730.7" r="1.75" fill="#000"/>
<circle cx="653.4" cy="741.4" r="1.75" fill="#000"/>
<circle cx="653.4" cy="754.1" r="1.75" fill="#000"/>
<circle cx="653" cy="762.4" r="1.75" fill="#000"/>
<circle cx="662.3" cy="721.6" r="1.75" fill="#000"/>
<circle cx="668" cy="723.3" r="1.75" fill="#000"/>
<circle cx="661.2" cy="733.2" r="1.75" fill="#000"/>
<circle cx="667.8" cy="734.4" r="1.75" fill="#000"/>
<circle cx="669" cy="742.6" r="1.75" fill="#000"/>
<circle cx="666.4" cy="747.4" r="1.75" fill="#000"/>
<circle cx="669" cy="752.3" r="1.75" fill="#000"/>
<circle cx="663.9" cy="755.8" r="1.75" fill="#000"/>
<circle cx="670.7" cy="778.4" r="1.75" fill="#000"/>
<circle cx="679.1" cy="792.4" r="1.75" fill="#000"/>
<circle cx="677.7" cy="801.3" r="1.75" fill="#000"/>
<circle cx="674.6" cy="814.5" r="1.75" fill="#000"/>
<circle cx="686.3" cy="816.1" r="1.75" fill="#000"/>
<circle cx="682" cy="825.2" r="1.75" fill="#000"/>
<circle cx="686.9" cy="853.6" r="1.75" fill="#000"/>
<circle cx="697.2" cy="844.7" r="1.75" fill="#000"/>
<circle cx="695.8" cy="852.5" r="1.75" fill="#000"/>
<circle cx="694.5" cy="861.4" r="1.75" fill="#000"/>
<circle cx="706.9" cy="859.5" r="1.75" fill="#000"/>
<circle cx="702" cy="870" r="1.75" fill="#000"/>
<circle cx="694.3" cy="875.2" r="1.75" fill="#000"/>
<circle cx="698.7" cy="880.7" r="1.75" fill="#000"/>
<circle cx="688.6" cy="886.1" r="1.75" fill="#000"/>
<circle cx="713.7" cy="850.1" r="1.75" fill="#000"/>
<circle cx="714.3" cy="840.8" r="1.75" fill="#000"/>
<circle cx="714.3" cy="833" r="1.75" fill="#000"/>
<circle cx="714.7" cy="820" r="1.75" fill="#000"/>
<circle cx="716.3" cy="810" r="1.75" fill="#000"/>
<circle cx="720.3" cy="800.3" r="1.75" fill="#000"/>
<circle cx="721.5" cy="789.8" r="1.75" fill="#000"/>
<circle cx="721.9" cy="779.1" r="1.75" fill="#000"/>
<circle cx="721.9" cy="763.5" r="1.75" fill="#000"/>
<circle cx="725.4" cy="750.8" r="1.75" fill="#000"/>
<line x1="445.8" y1="638.7" x2="445.8" y2="898.6" stroke="#000" stroke-width="1.9" stroke-linecap="butt" />
<line x1="445" y1="897.6" x2="739" y2="897.6" stroke="#000" stroke-width="1.9" stroke-linecap="butt" />
<line x1="443.2" y1="698.7" x2="445.8" y2="698.7" stroke="#000" stroke-width="1.4" stroke-linecap="butt" />
<text x="443.8" y="702.3" font-size="10.8" text-anchor="end" fill="#000" textLength="15.7" lengthAdjust="spacingAndGlyphs">2.5</text>
<line x1="443.2" y1="763.6" x2="445.8" y2="763.6" stroke="#000" stroke-width="1.4" stroke-linecap="butt" />
<text x="443.8" y="767.2" font-size="10.8" text-anchor="end" fill="#000" textLength="15.7" lengthAdjust="spacingAndGlyphs">2.0</text>
<line x1="443.2" y1="828.5" x2="445.8" y2="828.5" stroke="#000" stroke-width="1.4" stroke-linecap="butt" />
<text x="443.8" y="832.1" font-size="10.8" text-anchor="end" fill="#000" textLength="15.7" lengthAdjust="spacingAndGlyphs">1.5</text>
<line x1="443.2" y1="893.4" x2="445.8" y2="893.4" stroke="#000" stroke-width="1.4" stroke-linecap="butt" />
<text x="443.8" y="897" font-size="10.8" text-anchor="end" fill="#000" textLength="15.7" lengthAdjust="spacingAndGlyphs">1.0</text>
<line x1="459.2" y1="897.6" x2="459.2" y2="900.2" stroke="#000" stroke-width="1.4" stroke-linecap="butt" />
<text x="459.2" y="908.5" font-size="11" text-anchor="middle" fill="#000" >0</text>
<line x1="522.6" y1="897.6" x2="522.6" y2="900.2" stroke="#000" stroke-width="1.4" stroke-linecap="butt" />
<text x="522.6" y="908.5" font-size="11" text-anchor="middle" fill="#000" >10</text>
<line x1="586" y1="897.6" x2="586" y2="900.2" stroke="#000" stroke-width="1.4" stroke-linecap="butt" />
<text x="586" y="908.5" font-size="11" text-anchor="middle" fill="#000" >20</text>
<line x1="649.4" y1="897.6" x2="649.4" y2="900.2" stroke="#000" stroke-width="1.4" stroke-linecap="butt" />
<text x="649.4" y="908.5" font-size="11" text-anchor="middle" fill="#000" >30</text>
<line x1="712.8" y1="897.6" x2="712.8" y2="900.2" stroke="#000" stroke-width="1.4" stroke-linecap="butt" />
<text x="712.8" y="908.5" font-size="11" text-anchor="middle" fill="#000" >40</text>
<text x="594.55" y="919.6" font-size="13.2" text-anchor="middle" fill="#000" >DNA methylation level (PMR)</text>
<text transform="translate(424,768.15) rotate(-90)" x="0" y="0" font-size="11.25" text-anchor="middle" fill="#000" >Standardized Log-rank Stastic</text>
<text x="700.6" y="681.1" font-size="10.7" text-anchor="middle" fill="#000" >Cut-off=16.22</text>
<text x="704.95" y="695.5" font-size="13" text-anchor="middle" fill="#000" >p=0.04*</text></svg>
</body></html>
